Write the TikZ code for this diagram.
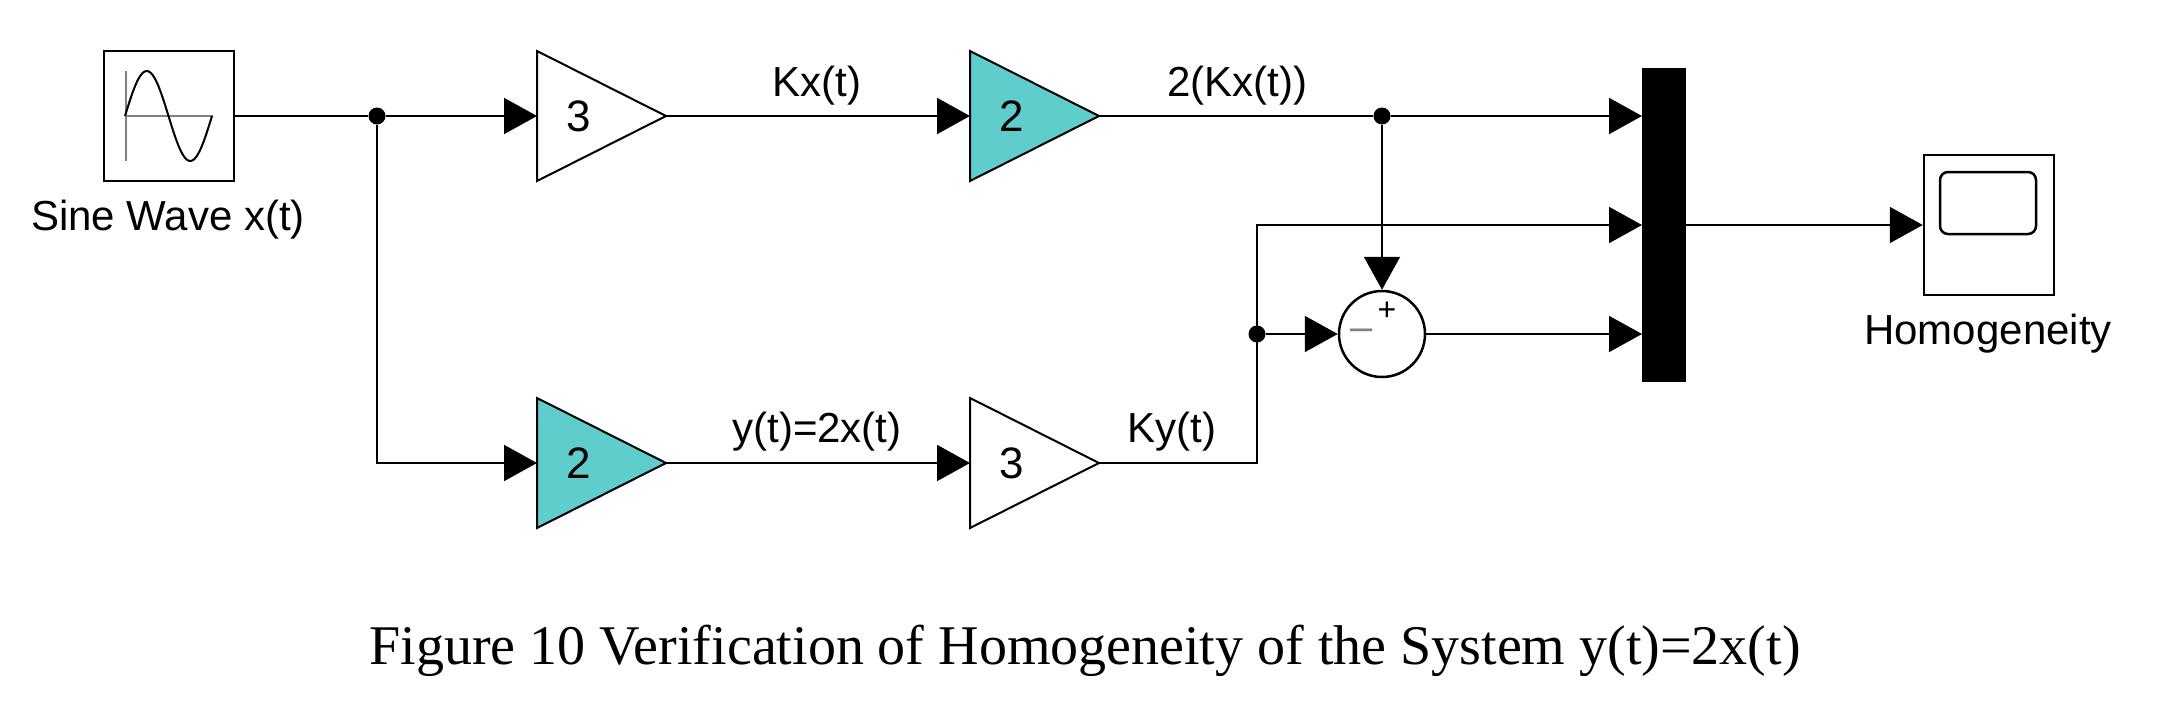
\documentclass[tikz,border=0pt]{standalone}
\usepackage{fontspec}
\setmainfont{Liberation Serif}
\newfontfamily\lab{Liberation Sans}
\usetikzlibrary{arrows.meta}
\definecolor{teal1}{RGB}{94,205,204}
\begin{document}
\begin{tikzpicture}[x=1pt,y=-1pt,
  wire/.style={line width=2pt},
  sig/.style={wire,-{Triangle[length=33pt,width=36pt]}},
  blk/.style={draw,line width=2.5pt,fill=white},
  lbl/.style={font=\lab\fontsize{42}{46}\selectfont,inner sep=0pt},
  dot/.style={circle,fill=black,inner sep=0pt,minimum width=15pt,minimum height=17pt}]
\useasboundingbox (0,0) rectangle (2171,726);
% sine source
\node[blk,minimum width=130pt,minimum height=130pt,inner sep=0pt] (sine) at (169,116) {};
\draw[gray,line width=1.2pt] (126,71) -- (126,161) (126,116) -- (213,116);
\draw[line width=2pt] plot[domain=0:360,samples=60] ({125+\x/360*87},{116-45*sin(\x)});
\node[lbl] (sinel) at (168,220) {Sine Wave x(t)};
% gains
\newcommand{\gainblk}[5]{% name, left x, center y, fill, text
  \draw[line width=2pt,fill=#4] (#2,#3-65) -- (#2+129,#3) -- (#2,#3+65) -- cycle;
  \coordinate (#1i) at (#2,#3); \coordinate (#1o) at (#2+129,#3);
  \node[lbl,font=\lab\fontsize{44}{48}\selectfont] (#1t) at (#2+42,#3) {#5};}
\gainblk{ga}{537}{116}{white}{3}
\gainblk{gb}{970}{116}{teal1}{2}
\gainblk{gc}{537}{463}{teal1}{2}
\gainblk{gd}{970}{463}{white}{3}
% junctions
\node[dot] (j1) at (377,116) {};
\node[dot] (j2) at (1382,116) {};
\node[dot] (j3) at (1257,334) {};
% sum
\node[blk,circle,minimum size=86pt,inner sep=0pt] (sum) at (1382,334) {};
\node[font=\lab\fontsize{32}{34}\selectfont] at (1387,311) {+};
\node[gray,font=\lab\fontsize{40}{42}\selectfont] at (1362,335) {\textendash};
% mux
\node[fill=black,minimum width=44pt,minimum height=314pt,inner sep=0pt] (mux) at (1664,225) {};
\coordinate (m1) at (1642,116); \coordinate (m2) at (1642,225); \coordinate (m3) at (1642,334);
\coordinate (mo) at (1686,225);
% scope
\node[blk,minimum width=130pt,minimum height=140pt,inner sep=0pt] (scope) at (1989,225) {};
\draw[line width=2.5pt,rounded corners=8pt] (1940,172) rectangle (2036,234);
\node[lbl] (scl) at (1988,334) {Homogeneity};
% wires
\draw[wire] (sine.east) -- (j1);
\draw[sig] (j1) -- (gai);
\draw[sig] (j1) |- (gci);
\draw[sig] (gao) -- (gbi);
\draw[sig] (gco) -- (gdi);
\draw[wire] (gbo) -- (j2);
\draw[sig] (j2) -- (m1);
\draw[sig] (j2) -- (sum.north);
\coordinate (kt) at (1257,225);
\draw[sig] (gdo) -| (kt) -- (m2);
\draw[sig] (j3) -- (sum.west);
\draw[sig] (sum.east) -- (m3);
\draw[sig] (mo) -- (scope.west);
% labels
\node[lbl] (l1) at (817,86) {Kx(t)};
\node[lbl] (l2) at (1237,86) {2(Kx(t))};
\node[lbl] (l3) at (817,432) {y(t)=2x(t)};
\node[lbl] (l4) at (1172,432) {Ky(t)};
\node[font=\fontsize{56}{60}\selectfont] (cap) at (1085,651) {Figure 10 Verification of Homogeneity of the System y(t)=2x(t)};
\end{tikzpicture}
\end{document}
